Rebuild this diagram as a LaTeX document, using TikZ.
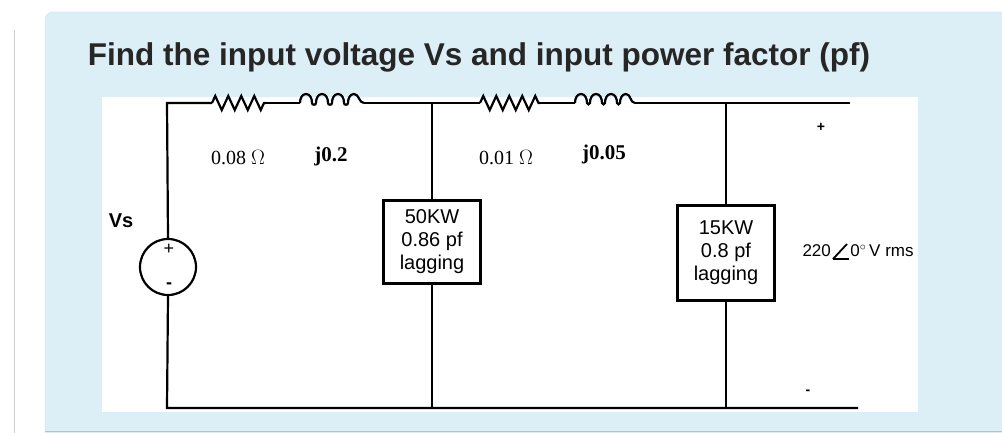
\documentclass[tikz,border=0pt]{standalone}
\usepackage{fontspec}
\setmainfont{Liberation Serif}
\newfontfamily\sfb{Liberation Sans}
\usetikzlibrary{decorations.pathmorphing}
\definecolor{cardbg}{HTML}{DCEEF6}
\definecolor{cardline}{HTML}{C9E2EE}
\begin{document}
\begin{tikzpicture}[x=1pt,y=-1pt,
  wire/.style={line width=2.2pt,black},
  res/.style={wire,decorate,decoration={zigzag,amplitude=7pt,segment length=13pt}},
  load/.style={draw,line width=2.8pt,minimum width=97pt,inner sep=0pt,align=center,font=\sfb\fontsize{20}{23}\selectfont},
  lbl/.style={font=\fontsize{20}{22}\selectfont},
  jlbl/.style={font=\bfseries\fontsize{21}{23}\selectfont}]
\useasboundingbox (0,0) rectangle (1002,433);
\fill[white] (0,0) rectangle (1002,433);
\filldraw[fill=cardbg,draw=cardline,rounded corners=8pt] (45,12) rectangle (1020,450);
\draw[gray!40] (14,30) -- (14,433);
\draw[gray!50,line width=1pt] (45,431) -- (1002,431);
\fill[white] (102,97) rectangle (918,412);
\node[font=\sfb\bfseries\fontsize{31.5}{34}\selectfont,text=black!85] (title) at (479,57) {Find the input voltage Vs and input power factor (pf)};
% coordinates
\coordinate (tl) at (167,103);
\coordinate (r1a) at (212,103); \coordinate (r1b) at (266,103);
\coordinate (l1a) at (300,103); \coordinate (l1b) at (364,103);
\coordinate (j1) at (432,103);
\coordinate (r2a) at (480,103); \coordinate (r2b) at (540,103);
\coordinate (l2a) at (575,103); \coordinate (l2b) at (635,103);
\coordinate (j2) at (726,103);
\coordinate (tr) at (850,103);
\coordinate (bl) at (167,408); \coordinate (b1) at (432,408); \coordinate (b2) at (726,408);
\coordinate (br) at (858,408);
% source
\node[draw,circle,line width=2.2pt,minimum size=56pt,inner sep=0pt] (src) at (168,267) {};
\node[font=\sfb\fontsize{18}{18}\selectfont] (sp) at (169,249) {+};
\node[font=\sfb\bfseries\fontsize{18}{18}\selectfont] (sm) at (169,286) {-};
\node[font=\sfb\bfseries\fontsize{20}{22}\selectfont] (vs) at (121,221) {Vs};
% loads
\node[load,minimum height=83pt] (ld1) at (432,242) {50KW\\0.86 pf\\lagging};
\node[load,minimum height=95pt] (ld2) at (726,253) {15KW\\0.8 pf\\lagging};
% wires
\draw[wire] (src.north) -- (tl) -- (r1a);
\draw[res] (r1a) -- (r1b);
\draw[wire] (r1b) -- (l1a);
\draw[wire] (l1a) to[out=90,in=180] ++(6,-9) to[out=0,in=90] ++(6,9) to[out=-90,in=-90,looseness=1.5] ++(4,0)
  to[out=90,in=180] ++(6,-9) to[out=0,in=90] ++(6,9) to[out=-90,in=-90,looseness=1.5] ++(4,0)
  to[out=90,in=180] ++(6,-9) to[out=0,in=90] ++(6,9) to[out=-90,in=-90,looseness=1.5] ++(4,0)
  to[out=90,in=180] ++(6,-9) to[out=0,in=180] (l1b);
\draw[wire] (l1b) -- (j1) -- (r2a);
\draw[res] (r2a) -- (r2b);
\draw[wire] (r2b) -- (l2a);
\draw[wire] (l2a) to[out=90,in=180] ++(6,-9) to[out=0,in=90] ++(6,9) to[out=-90,in=-90,looseness=1.5] ++(3,0)
  to[out=90,in=180] ++(6,-9) to[out=0,in=90] ++(6,9) to[out=-90,in=-90,looseness=1.5] ++(3,0)
  to[out=90,in=180] ++(6,-9) to[out=0,in=90] ++(6,9) to[out=-90,in=-90,looseness=1.5] ++(3,0)
  to[out=90,in=180] ++(6,-9) to[out=0,in=180] (l2b);
\draw[wire] (l2b) -- (j2) -- (tr);
\draw[wire] (j1) -- (ld1.north);
\draw[wire] (j2) -- (ld2.north);
\draw[wire] (ld1.south) -- (b1);
\draw[wire] (ld2.south) -- (b2);
\draw[wire] (src.south) -- (bl) -- (br);
% labels
\node[lbl] (lr1) at (238,158) {0.08 $\Omega$};
\node[jlbl] (ll1) at (331,156) {j0.2};
\node[lbl] (lr2) at (506,158) {0.01 $\Omega$};
\node[jlbl] (ll2) at (604,154) {j0.05};
\node[font=\sfb\bfseries\fontsize{14}{14}\selectfont] (plus) at (821,127) {+};
\node[font=\sfb\bfseries\fontsize{14}{14}\selectfont] (minus) at (808,392) {-};
\node[font=\sfb\fontsize{17}{19}\selectfont,anchor=west] (v220) at (799,251) {220\hspace{1.15em}0\textsuperscript{$\circ$}\,V rms};
\draw[line width=1.8pt] (833,259) -- (847,244);
\draw[line width=1.8pt] (833,259) -- (849,259);
\end{tikzpicture}
\end{document}
